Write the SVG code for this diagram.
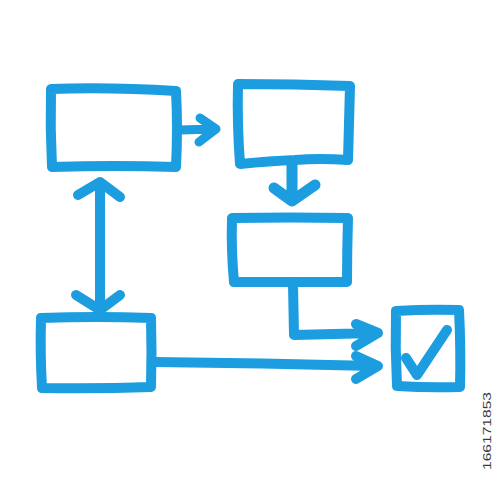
<svg xmlns="http://www.w3.org/2000/svg" width="500" height="500" viewBox="0 0 500 500">
<style>
.s{fill:none;stroke:#1b9de0;stroke-linecap:round;stroke-linejoin:round}
.b{stroke-width:10}
.c{stroke-width:9}
.id{font-family:"Liberation Sans",Arial,sans-serif;font-size:11px;fill:#3a3a3a}
</style>
<rect width="500" height="500" fill="#ffffff"/>
<g id="box1"><path class="s b" d="M51,89 Q110,87 176,91 Q178,128 176,167 Q115,165 52,167 Q50,128 51,89 Z"/></g>
<g id="box2"><path class="s b" d="M238,84 Q295,84 350,86 Q349,125 348,160 Q320,158 295,160 Q270,161 240,164 Q237,124 238,84 Z"/></g>
<g id="box3"><path class="s b" d="M232,218 Q292,217 348,218 Q347,250 347,282 Q290,282 234,282 Q231,250 232,218 Z"/></g>
<g id="box4"><path class="s b" d="M41,318 Q96,316 151,318 Q152,352 151,387 Q96,389 42,388 Q40,352 41,318 Z"/></g>
<g id="check"><path class="s b" d="M396,311 Q428,309 459,310 Q461,350 460,387 Q428,388 397,386 Q395,348 396,311 Z"/><path class="s" stroke-width="10" d="M406,358 L417,375 L447,330"/></g>
<g id="connectors">
<path class="s c" d="M180,130 L214,129 M200,118 L216,129 L199,142"/>
<path class="s" stroke-width="11" d="M292,164 L292,199 M274,188 L292,201 L315,185"/>
<path class="s" stroke-width="10" d="M100,184 L100,308 M78,195 L100,182 L120,197 M76,295 L100,310 L120,295"/>
<path class="s" stroke-width="10" d="M293,284 L294,335 L375,333 M356,324 L378,333 L356,346"/>
<path class="s" stroke-width="10" d="M155,362 Q260,363 375,366 M356,356 L378,366 L356,379"/>
</g>
<text class="id" transform="translate(491,470) rotate(-90)" textLength="78" lengthAdjust="spacingAndGlyphs">166171853</text>
</svg>
